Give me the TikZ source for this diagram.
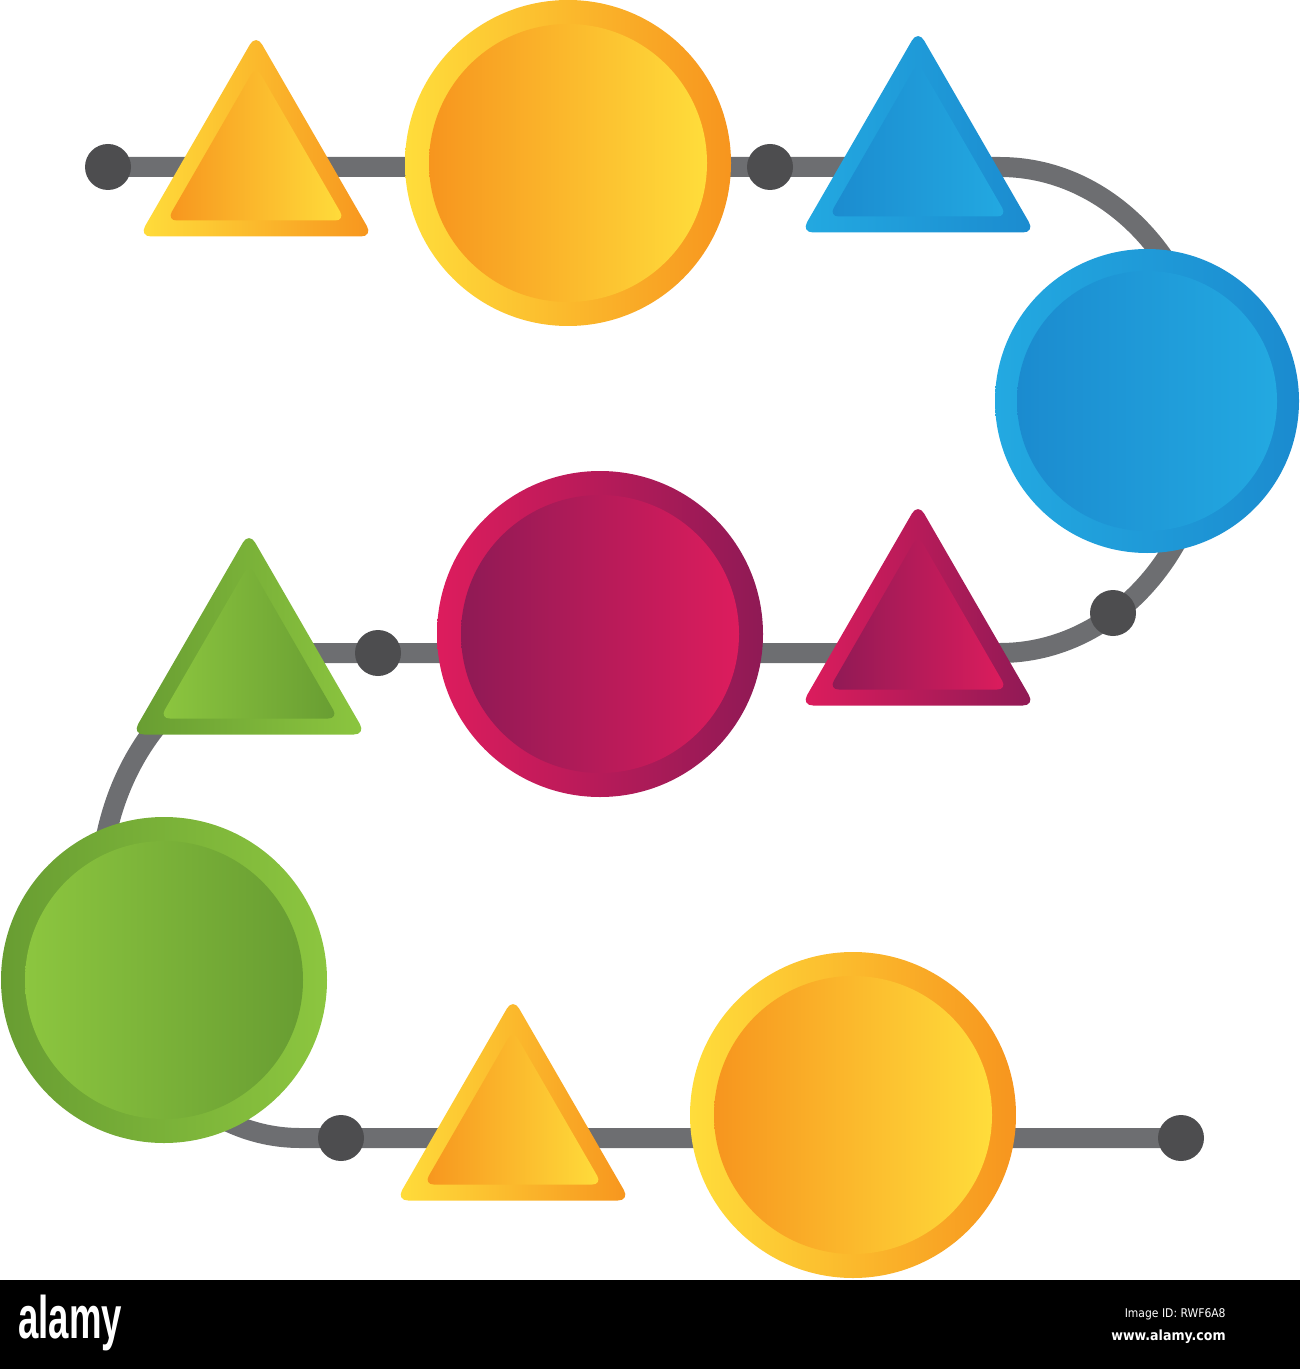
\documentclass[tikz,border=0pt]{standalone}
\usepackage{fontspec}
\usetikzlibrary{shapes.geometric}

\newfontfamily\logofont[FakeStretch=0.61]{Liberation Sans}
\newfontfamily\idfont{DejaVu Sans Condensed}

\definecolor{sunY}{HTML}{FFDD3B}
\definecolor{sunO}{HTML}{F7951E}
\definecolor{skyL}{HTML}{23A9E1}
\definecolor{skyD}{HTML}{1B8BCF}
\definecolor{rubyP}{HTML}{DD1C5D}
\definecolor{rubyD}{HTML}{8F1A55}
\definecolor{leafD}{HTML}{689D32}
\definecolor{leafL}{HTML}{8CC63F}
\definecolor{trackgray}{HTML}{6D6E71}
\definecolor{dotgray}{HTML}{4D4D4F}

\tikzset{
    track/.style={draw=trackgray, line width=10pt},
    stopdot/.style={circle, fill=dotgray, inner sep=0pt, minimum size=23pt},
    coin/.style n args={3}{circle, inner sep=0pt, minimum size=#1, left color=#2, right color=#3},
    trishape/.style n args={3}{regular polygon, regular polygon sides=3, inner sep=0pt,
        minimum size=#1, rounded corners=6pt, left color=#2, right color=#3}
}

\begin{document}
\begin{tikzpicture}[x=0.5pt, y=-0.5pt]
            \useasboundingbox (0,0) rectangle (1300,1369);

            % the winding track
            \coordinate (t0) at (108,167);
            \coordinate (t1) at (1000,167);
            \coordinate (m0) at (300,653);
            \coordinate (b1) at (1181,1138);

            \draw[track] (t0) -- (t1) arc[start angle=-90, end angle=90, x radius=210, y radius=243]
                -- (m0) arc[start angle=270, end angle=90, x radius=200, y radius=242.5] -- (b1);

            \foreach \id/\x/\y in {s1/108/167, s2/770/167, s3/1113/613, s4/378/653, s5/341/1138, s6/1181/1138}{
                \node[stopdot] (\id) at (\x,\y) {};
            }

            % triangles
            \foreach \id/\x/\y/\ca/\cb in {triA/256/169/sunY/sunO, triB/918/165/skyL/skyD,
                    triC/918/638/rubyP/rubyD, triD/249/667/leafD/leafL, triE/513/1133/sunY/sunO}{
                \node[trishape={135pt}{\ca}{\cb}] (\id) at (\x,\y) {};
                \node[trishape={103pt}{\cb}{\ca}, rounded corners=5pt] (\id-in) at (\id) {};
            }

            % circles
            \foreach \id/\x/\y/\dout/\din/\ca/\cb in {coinA/568/163/163pt/139pt/sunY/sunO,
                    coinB/1147/401/152pt/130pt/skyL/skyD, coinC/600/634/163pt/139pt/rubyP/rubyD,
                    coinD/164/980/163pt/139pt/leafD/leafL, coinE/853/1115/163pt/139pt/sunY/sunO}{
                \node[coin={\dout}{\ca}{\cb}] (\id) at (\x,\y) {};
                \node[coin={\din}{\cb}{\ca}] (\id-in) at (\id) {};
            }

            % footer bar
            \fill[black] (0,1280) rectangle (1300,1369);
            \node[anchor=base west, inner sep=0pt, text=white, font=\logofont\bfseries\fontsize{30}{30}\selectfont] (logo) at (18,1338) {alamy};
            \node[anchor=base east, inner sep=0pt, text=white, font=\idfont\fontsize{6}{6}\selectfont] (imgid) at (1226,1317) {Image ID: RWF6A8};
            \node[anchor=base east, inner sep=0pt, text=white, font=\idfont\bfseries\fontsize{7}{7}\selectfont] (site) at (1226,1340) {www.alamy.com};

        \end{tikzpicture}
\end{document}
